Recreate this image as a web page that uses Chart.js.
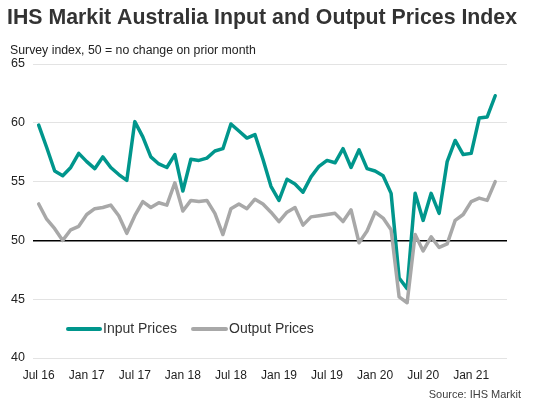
<!DOCTYPE html>
<html>
<head>
<meta charset="utf-8">
<script src="https://cdn.jsdelivr.net/npm/chart.js@4.4.1/dist/chart.umd.min.js"></script>
<style>
  body { margin: 0; background: #fff; }
  canvas { display: block; }
</style>
</head>
<body>
<canvas id="chart" width="533" height="407"></canvas>
<script>
// month labels, Jul 16 .. Apr 21
const months = ['Jan', 'Feb', 'Mar', 'Apr', 'May', 'Jun', 'Jul', 'Aug', 'Sep', 'Oct', 'Nov', 'Dec']
const labels = []
for (let i = 0; i < 58; i++) {
    const m = (6 + i) % 12
    const y = 16 + Math.floor((6 + i) / 12)
    labels.push(months[m] + ' ' + y)
}

const inputPrices = [
    59.8, 57.9, 55.9, 55.5, 56.2, 57.4, 56.7, 56.1, 57.1, 56.2, 55.6, 55.1,
    60.1, 58.8, 57.1, 56.5, 56.2, 57.3, 54.2, 56.9, 56.8, 57.0, 57.6, 57.8,
    59.9, 59.3, 58.7, 59.0, 56.9, 54.6, 53.4, 55.2, 54.8, 54.1, 55.4, 56.3,
    56.8, 56.6, 57.8, 56.2, 57.7, 56.1, 55.9, 55.5, 54.0, 46.8, 45.9, 54.0,
    51.7, 54.0, 52.3, 56.7, 58.5, 57.3, 57.4, 60.4, 60.5, 62.3
]
const outputPrices = [
    53.1, 51.8, 51.0, 50.0, 50.9, 51.2, 52.2, 52.7, 52.8, 53.0, 52.1, 50.6,
    52.1, 53.3, 52.8, 53.2, 53.0, 54.9, 52.5, 53.4, 53.3, 53.4, 52.3, 50.5,
    52.7, 53.1, 52.7, 53.5, 53.1, 52.4, 51.6, 52.4, 52.8, 51.3, 52.0, 52.1,
    52.2, 52.3, 51.6, 52.6, 49.8, 50.8, 52.4, 51.9, 50.9, 45.2, 44.7, 50.5,
    49.1, 50.3, 49.4, 49.7, 51.7, 52.2, 53.3, 53.6, 53.4, 55.0
]
const xTicks = [0, 6, 12, 18, 24, 30, 36, 42, 48, 54]
const yTicks = [40, 45, 50, 55, 60, 65]

const FONT = '"Liberation Sans", Arial, sans-serif'
const TEAL = '#00968c'
const GREY = '#a8a8a8'

// title, subtitle, source and the legend inside the plot
const textPlugin = {
    id: 'texts',
    afterDraw(chart) {
        const ctx = chart.ctx
        ctx.save()
        ctx.textBaseline = 'alphabetic'
        ctx.textAlign = 'left'
        ctx.fillStyle = '#333333'
        ctx.font = 'bold 21.3px ' + FONT
        ctx.fillText('IHS Markit Australia Input and Output Prices Index', 7, 24)
        ctx.font = '12.3px ' + FONT
        ctx.fillStyle = '#222222'
        ctx.fillText('Survey index, 50 = no change on prior month', 10, 54)
        ctx.font = '11px ' + FONT
        ctx.textAlign = 'right'
        ctx.fillStyle = '#404040'
        ctx.fillText('Source: IHS Markit', 521, 398)

        // legend
        const items = [
            { ds: chart.data.datasets[0], x0: 68, x1: 100 },
            { ds: chart.data.datasets[1], x0: 193, x1: 226 }
        ]
        ctx.textAlign = 'left'
        ctx.textBaseline = 'middle'
        ctx.font = '14px ' + FONT
        items.forEach(it => {
            ctx.strokeStyle = it.ds.borderColor
            ctx.lineWidth = 4
            ctx.lineCap = 'round'
            ctx.beginPath()
            ctx.moveTo(it.x0, 329)
            ctx.lineTo(it.x1, 329)
            ctx.stroke()
            ctx.fillStyle = '#333333'
            ctx.fillText(it.ds.label, it.x1 + 3, 329.5)
        })
        ctx.restore()
    }
}

const ctx = document.getElementById('chart').getContext('2d')
new Chart(ctx, {
    type: 'line',
    data: {
        labels: labels,
        datasets: [{
            label: 'Input Prices',
            data: inputPrices.map((v, i) => ({ x: i, y: v })),
            borderColor: TEAL,
            borderWidth: 3.5,
            order: 1
        }, {
            label: 'Output Prices',
            data: outputPrices.map((v, i) => ({ x: i, y: v })),
            borderColor: GREY,
            borderWidth: 3.5,
            order: 0
        }]
    },
    options: {
        responsive: false,
        animation: false,
        layout: { padding: { left: 0, top: 64, right: 26, bottom: 0 } },
        elements: {
            point: { radius: 0 },
            line: { tension: 0, borderJoinStyle: 'round', borderCapStyle: 'round' }
        },
        plugins: {
            legend: { display: false },
            tooltip: { enabled: false }
        },
        scales: {
            x: {
                type: 'linear',
                min: -0.71,
                max: 58.47,
                border: { display: false },
                grid: { display: false, drawTicks: false },
                afterFit(scale) { scale.height = 49 },
                afterBuildTicks(scale) { scale.ticks = xTicks.map(v => ({ value: v })) },
                ticks: {
                    autoSkip: false,
                    maxRotation: 0,
                    padding: 10,
                    color: '#222222',
                    font: { family: FONT, size: 12 },
                    callback: v => labels[v]
                }
            },
            y: {
                min: 40,
                max: 65,
                border: { display: false },
                afterFit(scale) { scale.width = 33 },
                afterBuildTicks(scale) { scale.ticks = yTicks.map(v => ({ value: v })) },
                grid: {
                    drawTicks: false,
                    color: c => c.tick.value === 50 ? '#000000' : '#e3e3e3',
                    lineWidth: c => c.tick.value === 50 ? 1.5 : 1
                },
                ticks: {
                    padding: 8,
                    color: '#222222',
                    font: { family: FONT, size: 12.5 }
                }
            }
        }
    },
    plugins: [textPlugin]
})
</script>
</body>
</html>
